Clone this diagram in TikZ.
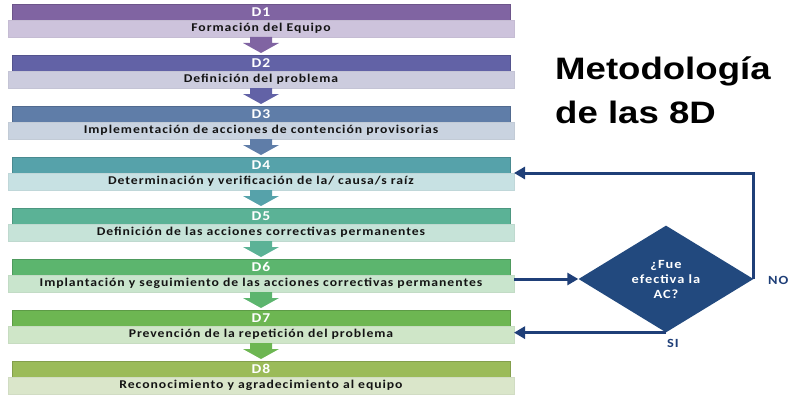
\documentclass[tikz,border=0pt]{standalone}
\usepackage{fontspec}
\usetikzlibrary{positioning, shapes.geometric, arrows.meta}
\newfontfamily\boxfont[FakeStretch=1.15, LetterSpace=8]{Carlito}
\newfontfamily\titlefont[FakeStretch=1.18]{Liberation Sans}

\definecolor{hone}{HTML}{8064A2}   \definecolor{sone}{HTML}{CDC3DC}
\definecolor{htwo}{HTML}{6262A6}   \definecolor{stwo}{HTML}{CCCCDE}
\definecolor{hthree}{HTML}{5F7DA8} \definecolor{sthree}{HTML}{C9D3E0}
\definecolor{hfour}{HTML}{56A2AA}  \definecolor{sfour}{HTML}{C7E1E3}
\definecolor{hfive}{HTML}{5BB296}  \definecolor{sfive}{HTML}{C6E3D8}
\definecolor{hsix}{HTML}{5CB56E}   \definecolor{ssix}{HTML}{C9E5CD}
\definecolor{hseven}{HTML}{6DB652} \definecolor{sseven}{HTML}{CFE6C8}
\definecolor{height}{HTML}{9BBB59} \definecolor{seight}{HTML}{DAE6CA}
\definecolor{loopblue}{HTML}{1F3F78}
\definecolor{qblue}{HTML}{22497E}

\begin{document}
\begin{tikzpicture}[x=1pt, y=1pt,
    head/.style={fill=#1, draw=#1!85!black, line width=0.4pt, minimum width=498pt,
      minimum height=16pt, inner sep=0pt, outer sep=0pt, text=white,
      font=\boxfont\bfseries\fontsize{13.5}{14}\selectfont},
    sub/.style={fill=#1, draw=#1!90!gray, line width=0.4pt, minimum width=506pt,
      minimum height=17pt, inner sep=0pt, outer sep=0pt, text=black!92,
      font=\boxfont\bfseries\fontsize{11.9}{13}\selectfont},
    flow/.style={draw=loopblue, line width=3pt, -{Triangle[length=11pt, width=12pt]}},
    lbl/.style={text=loopblue, font=\boxfont\bfseries\fontsize{12.5}{13}\selectfont}]
   \useasboundingbox (0,0) rectangle (800,400);

   % the eight disciplines
   \node[head=hone] (d1) at (261,388) {D1};
   \node[sub=sone, below=0pt of d1] (d1s) {Formación del Equipo};
   \node[head=htwo, below=18pt of d1s] (d2) {D2};
   \node[sub=stwo, below=0pt of d2] (d2s) {Definición del problema};
   \node[head=hthree, below=18pt of d2s] (d3) {D3};
   \node[sub=sthree, below=0pt of d3] (d3s) {Implementación de acciones de contención provisorias};
   \node[head=hfour, below=18pt of d3s] (d4) {D4};
   \node[sub=sfour, below=0pt of d4] (d4s) {Determinación y verificación de la/ causa/s raíz};
   \node[head=hfive, below=18pt of d4s] (d5) {D5};
   \node[sub=sfive, below=0pt of d5] (d5s) {Definición de las acciones correctivas permanentes};
   \node[head=hsix, below=18pt of d5s] (d6) {D6};
   \node[sub=ssix, below=0pt of d6] (d6s) {Implantación y seguimiento de las acciones correctivas permanentes};
   \node[head=hseven, below=18pt of d6s] (d7) {D7};
   \node[sub=sseven, below=0pt of d7] (d7s) {Prevención de la repetición del problema};
   \node[head=height, below=18pt of d7s] (d8) {D8};
   \node[sub=seight, below=0pt of d8] (d8s) {Reconocimiento y agradecimiento al equipo};

   % block arrows between steps
   \foreach \from/\col in {d1s/hone, d2s/htwo, d3s/hthree, d4s/hfour, d5s/hfive, d6s/hsix, d7s/hseven}
     \fill[\col] (\from.south) +(-11,0) -- +(11,0) -- +(11,-6) -- +(18,-6) -- +(0,-16)
        -- +(-18,-6) -- +(-11,-6) -- cycle;

   \node[font=\titlefont\bfseries\fontsize{31}{36}\selectfont, anchor=base west, inner sep=0pt] (t1) at (555,321) {Metodología};
   \node[font=\titlefont\bfseries\fontsize{31}{36}\selectfont, anchor=base west, inner sep=0pt] (t2) at (555,277) {de las 8D};

   % check of the corrective action
   \node[diamond, fill=qblue, minimum width=175pt, minimum height=106pt, inner sep=0pt,
     text=white, align=center, font=\boxfont\bfseries\fontsize{12.5}{15}\selectfont] (q) at (666,121)
     {¿Fue\\efectiva la\\AC?};

   \draw[flow] (d6s.east |- q.west) -- (q.west);
   \draw[flow] (q.east) |- (d4s.north east);
   \draw[flow] (q.south) -- (q.south -| d7s.east);
   \node[lbl, anchor=west] (no) at ([xshift=11pt,yshift=-1pt]q.east) {NO};
   \node[lbl, anchor=north] (si) at ([xshift=7pt,yshift=-3pt]q.south) {SI};
\end{tikzpicture}
\end{document}
